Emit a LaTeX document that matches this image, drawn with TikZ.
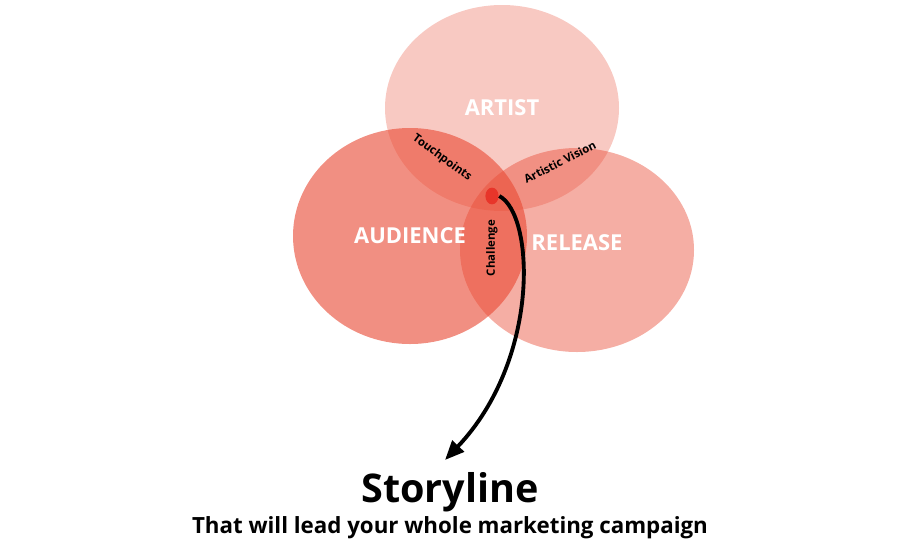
\documentclass[tikz,border=0pt]{standalone}
\usepackage{fontspec}
\setmainfont{Open Sans}
\usepackage{tikz}
\usetikzlibrary{arrows.meta,shapes.geometric}
\definecolor{vennred}{HTML}{E94B35}
\definecolor{dotred}{HTML}{E8352A}

\begin{document}
\begin{tikzpicture}[x=0.02cm, y=-0.02cm, thick,
		big label/.style={text=white, font=\bfseries\fontsize{12.5}{14}\selectfont},
		small label/.style={text=black, font=\bfseries\fontsize{6.5}{8}\selectfont, inner sep=1pt}]
			
			\useasboundingbox (0,0) rectangle (902,558);
			
			\fill[vennred, fill opacity=0.3] (502,108) ellipse (117 and 103);
			\fill[vennred, fill opacity=0.62] (410,236) ellipse (117 and 108);
			\fill[vennred, fill opacity=0.45] (577,250) ellipse (117 and 102);
			
			\node[big label] (artist) at (502,108) {ARTIST};
			\node[big label] (audience) at (410,236) {AUDIENCE};
			\node[big label] (release) at (577,243) {RELEASE};
			
			\node[small label, rotate=-36] (touch) at (442,158) {Touchpoints};
			\node[small label, rotate=27] (vision) at (560,162) {Artistic Vision};
			\node[small label, rotate=90] (challenge) at (492,248) {Challenge};
			
			\node[ellipse, fill=dotred, minimum width=7.5pt, minimum height=9.5pt, inner sep=0pt] (dot) at (492,196) {};
			\coordinate (tip) at (445,460);
			
			\node[font=\bfseries\fontsize{22.5}{26}\selectfont] (story) at (450,492) {Storyline};
			\node[font=\bfseries\fontsize{12.7}{15}\selectfont] (lead) at (450,528) {That will lead your whole marketing campaign};
			
			\draw[line width=2.2pt, -{Triangle[length=11pt, width=9pt]}]
			(dot.east) .. controls (535,215) and (540,360) .. (tip);
			
			\end{tikzpicture}
\end{document}
